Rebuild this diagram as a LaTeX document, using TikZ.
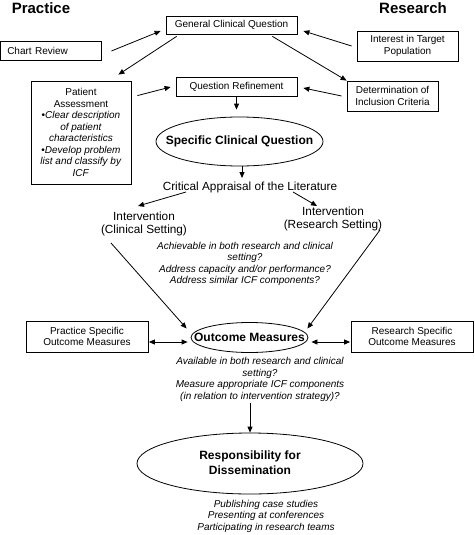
\documentclass[tikz,border=0pt]{standalone}
\usepackage{fontspec}
\setmainfont{Liberation Sans}
\usetikzlibrary{shapes.geometric,arrows.meta,calc}
\begin{document}
\begin{tikzpicture}[x=1pt,y=-1pt,
  box/.style={draw, line width=0.8pt, inner sep=0pt, align=center, font=\fontsize{10}{11.5}\selectfont},
  ell/.style={draw, ellipse, line width=0.8pt, inner sep=0pt},
  elltext/.style={align=center, inner sep=0pt, font=\bfseries\fontsize{12}{14.5}\selectfont},
  arr/.style={-{Triangle[length=6pt,width=5pt]}, line width=0.8pt},
  darr/.style={{Triangle[length=6pt,width=5pt]}-{Triangle[length=6pt,width=5pt]}, line width=0.8pt},
  note/.style={align=center, font=\itshape\fontsize{10}{11.5}\selectfont, inner sep=0pt},
  plain/.style={align=center, font=\fontsize{11.8}{13.5}\selectfont, inner sep=0pt},
  head/.style={font=\bfseries\fontsize{15}{17}\selectfont, inner sep=0pt}]
\fill[white] (0,0) rectangle (474,535);
\useasboundingbox (0,0) rectangle (474,535);

% headings
\node[head] (hp) at (41,8) {Practice};
\node[head] (hr) at (413,8) {Research};

% top boxes
\node[box, minimum width=131pt, minimum height=18pt] (GCQ) at (231.5,25) {General Clinical Question};
\node[box, minimum width=100.5pt, minimum height=19pt, text width=87pt, align=left, inner xsep=6.5pt] (CR) at (50.75,50.5) {Chart Review};
\node[box, minimum width=101pt, minimum height=30pt] (INT) at (407.5,46) {Interest in Target\\Population};
\node[box, minimum width=100pt, minimum height=103pt] (PA) at (81,132.5) {Patient\\Assessment\\•\textit{Clear description}\\\textit{of patient}\\\textit{characteristics}\\•\textit{Develop problem}\\\textit{list and classify by}\\\textit{ICF}};
\node[box, minimum width=121pt, minimum height=19pt] (QR) at (236.5,86.5) {Question Refinement};
\node[box, minimum width=91pt, minimum height=30pt] (DET) at (392.5,96) {Determination of\\Inclusion Criteria};

% specific clinical question
\node[ell, minimum width=167pt, minimum height=49pt] (SCQ) at (239.5,141.5) {};
\node[elltext] (SCQt) at (SCQ) {Specific Clinical Question};

% critical appraisal
\node[plain] (CA) at (250,187) {Critical Appraisal of the Literature};
\node[plain] (IC) at (144,224) {Intervention\\(Clinical Setting)};
\node[plain] (IR) at (333,219) {Intervention\\(Research Setting)};
\node[note] (N1) at (245,264) {Achievable in both research and clinical\\setting?\\Address capacity and/or performance?\\Address similar ICF components?};

% outcome measures
\node[ell, minimum width=117pt, minimum height=30pt] (OM) at (249.5,337.5) {};
\node[elltext] (OMt) at (OM) {Outcome Measures};
\node[box, minimum width=122pt, minimum height=31pt] (PS) at (87,336.5) {Practice Specific\\Outcome Measures};
\node[box, minimum width=122pt, minimum height=31pt] (RS) at (412,336.5) {Research Specific\\Outcome Measures};
\node[note] (N2) at (260,379.5) {Available in both research and clinical\\setting?\\Measure appropriate ICF components\\(in relation to intervention strategy)?};

% dissemination
\node[ell, minimum width=226pt, minimum height=61pt] (RD) at (250,463.5) {};
\node[elltext] (RDt) at (250,462.5) {Responsibility for\\Dissemination};
\node[note] (N3) at (266,516) {Publishing case studies\\Presenting at conferences\\Participating in research teams};

% connectors
\draw[arr] ($(CR.east)+(10,0.5)$) -- ($(GCQ.west)+(-5,6)$);
\draw[arr] ($(GCQ.south west)+(11,2)$) -- ($(PA.north east)+(-13,-6)$);
\draw[arr] ($(INT.west)+(-5,0)$) -- ($(GCQ.east)+(6,6)$);
\draw[arr] ($(GCQ.south east)+(-25,2)$) -- (DET.north west);
\draw[arr] ($(PA.north east)+(6,15)$) -- ($(QR.west)+(-5,0.5)$);
\draw[arr] ($(DET.west)+(-5,0)$) -- ($(QR.east)+(6,1.5)$);
\draw[arr] (QR.south) -- ($(SCQ.north)+(-3,-7)$);
\draw[arr] ($(SCQ.south)+(2.5,0)$) -- ($(CA)+(-8,-9)$);
\draw[arr] ($(CA)+(-64,5)$) -- ($(IC)+(-6,-18)$);
\draw[arr] ($(CA)+(43,5)$) -- ($(IR)+(-16,-13)$);
\draw[arr] ($(IC)+(-33,19)$) -- ($(OM.west)+(-4,-9)$);
\draw[arr] ($(IR)+(47,11)$) -- ($(OM.east)+(-1,-9)$);
\draw[darr] ($(PS.east)+(0.5,5.5)$) -- ($(OM.west)+(-3,4.5)$);
\draw[darr] ($(OM.east)+(3,4.5)$) -- ($(RS.west)+(-0.5,5.5)$);
\draw[arr] ($(N2)+(-10,23.5)$) -- (RD.north);
\end{tikzpicture}
\end{document}
